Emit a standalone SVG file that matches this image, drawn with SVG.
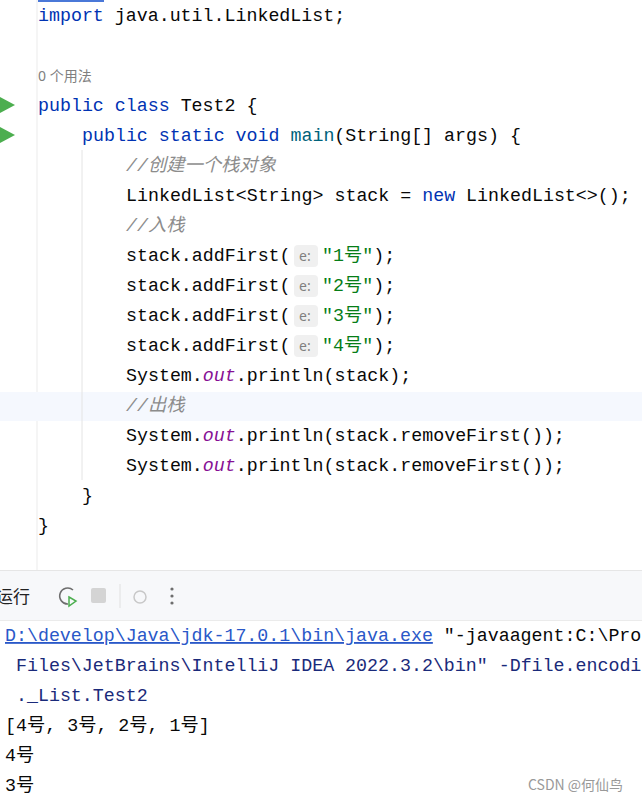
<svg xmlns="http://www.w3.org/2000/svg" width="642" height="803" viewBox="0 0 642 803">
<style>
.c{font-family:"Liberation Mono","Noto Sans CJK SC",monospace;font-size:18.3px;fill:#080808}
.k{fill:#0033b3}.cm{fill:#8c8c8c;font-style:italic}.s{fill:#067d17}.o{fill:#871094;font-style:italic}
.h{font-family:"Noto Sans","Noto Sans CJK SC",sans-serif;font-size:14px;fill:#808080}
.lk{fill:#2a58c8;text-decoration:underline}.nv{fill:#1a2a7a}
</style>
<rect width="642" height="803" fill="#fff"/>
<rect x="38" y="0" width="66" height="2" fill="#4a78d8"/>
<line x1="37" y1="0" x2="37" y2="570" stroke="#ebebeb"/>
<rect x="0" y="392" width="642" height="29" fill="#f5f8fe"/>
<line x1="82" y1="150" x2="82" y2="480" stroke="#e4e4e4"/>
<polygon points="0,97 15,105 0,113" fill="#4cae4f"/>
<polygon points="0,127 15,135 0,143" fill="#4cae4f"/>
<g id="code">
<text class="c" x="38" y="21"><tspan class="k">import</tspan> java.util.LinkedList;</text>
<text class="h" x="38" y="81" font-size="15.5">0 个用法</text>
<text class="c" x="38" y="111"><tspan class="k">public class</tspan> Test2 {</text>
<text class="c" x="82" y="141"><tspan class="k">public static void</tspan> <tspan fill="#00627a">main</tspan>(String[] args) {</text>
<text class="c cm" x="126" y="171">//创建一个栈对象</text>
<text class="c" x="126" y="201">LinkedList&lt;String&gt; stack = <tspan class="k">new</tspan> LinkedList&lt;&gt;();</text>
<text class="c cm" x="126" y="231">//入栈</text>
<g id="hints" fill="#f0f0f0">
<rect x="294" y="245" width="24" height="22" rx="4"/><rect x="294" y="275" width="24" height="22" rx="4"/>
<rect x="294" y="305" width="24" height="22" rx="4"/><rect x="294" y="335" width="24" height="22" rx="4"/>
</g>
<text class="c" x="126" y="261">stack.addFirst(</text><text class="h" x="299" y="261">e:</text><text class="c" x="322" y="261"><tspan class="s">"1号"</tspan>);</text>
<text class="c" x="126" y="291">stack.addFirst(</text><text class="h" x="299" y="291">e:</text><text class="c" x="322" y="291"><tspan class="s">"2号"</tspan>);</text>
<text class="c" x="126" y="321">stack.addFirst(</text><text class="h" x="299" y="321">e:</text><text class="c" x="322" y="321"><tspan class="s">"3号"</tspan>);</text>
<text class="c" x="126" y="351">stack.addFirst(</text><text class="h" x="299" y="351">e:</text><text class="c" x="322" y="351"><tspan class="s">"4号"</tspan>);</text>
<text class="c" x="126" y="381">System.<tspan class="o">out</tspan>.println(stack);</text>
<text class="c cm" x="126" y="411">//出栈</text>
<text class="c" x="126" y="441">System.<tspan class="o">out</tspan>.println(stack.removeFirst());</text>
<text class="c" x="126" y="471">System.<tspan class="o">out</tspan>.println(stack.removeFirst());</text>
<text class="c" x="82" y="501">}</text>
<text class="c" x="38" y="531">}</text>
</g>
<g id="toolbar">
<rect x="0" y="570" width="642" height="50" fill="#f7f8fa"/>
<line x1="0" y1="570.5" x2="642" y2="570.5" stroke="#e6e6e6"/>
<line x1="0" y1="620.5" x2="642" y2="620.5" stroke="#ebebeb"/>
<text x="-4" y="603" font-family="Noto Sans CJK SC,sans-serif" font-size="17" fill="#222">运行</text>
<path d="M73,590 A8,8 0 1 0 68,604" fill="none" stroke="#6e6e6e" stroke-width="1.6"/>
<polygon points="69,597 76,601 69,606" fill="none" stroke="#4cae4f" stroke-width="1.5"/>
<rect x="91" y="588" width="15" height="15" rx="2" fill="#d4d4d4"/>
<line x1="120" y1="584" x2="120" y2="608" stroke="#e0e0e0"/>
<circle cx="140" cy="597" r="6" fill="none" stroke="#c8c8c8" stroke-width="1.5"/>
<circle cx="172" cy="589" r="1.6" fill="#6e6e6e"/><circle cx="172" cy="596" r="1.6" fill="#6e6e6e"/><circle cx="172" cy="603" r="1.6" fill="#6e6e6e"/>
</g>
<g id="console">
<text class="c" x="5" y="641"><tspan class="lk">D:\develop\Java\jdk-17.0.1\bin\java.exe</tspan> "-javaagent:C:\Pro</text>
<text class="c nv" x="16" y="671">Files\JetBrains\IntelliJ IDEA 2022.3.2\bin" -Dfile.encodi</text>
<text class="c nv" x="16" y="701">._List.Test2</text>
<text class="c" x="5" y="731">[4号, 3号, 2号, 1号]</text>
<text class="c" x="5" y="761">4号</text>
<text class="c" x="5" y="791">3号</text>
<text x="528" y="790" font-family="Noto Sans CJK SC,sans-serif" font-size="14" fill="#999">CSDN @何仙鸟</text>
</g>
</svg>
